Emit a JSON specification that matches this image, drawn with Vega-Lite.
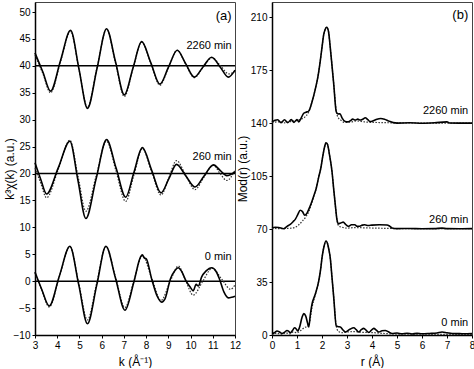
{
"$schema": "https://vega.github.io/schema/vega-lite/v6.json",
"padding": {"left": 2, "top": 1, "right": 0, "bottom": 0},
"spacing": 37,
"bounds": "flush",
"config": {
  "font": "Liberation Sans",
  "view": {"stroke": "#444", "strokeWidth": 1},
  "axis": {"grid": false, "domainColor": "#000", "domainWidth": 1.5, "tickColor": "#000", "tickSize": 3, "labelColor": "#000", "labelFontSize": 10, "titleColor": "#000", "titleFontWeight": "normal", "titleFontSize": 12, "labelPadding": 2, "labelFlush": false, "labelOverlap": false},
  "axisX": {"labelOverlap": false, "tickCount": 10}
},
"datasets": {
  "a_base": [{"v": 0}, {"v": 20}, {"v": 40}],
  "a_exp": [
    {"s":"2260","k":3.0,"v":42.4},{"s":"2260","k":3.35,"v":38.9},{"s":"2260","k":3.7,"v":35.3},{"s":"2260","k":4.15,"v":41.0},{"s":"2260","k":4.6,"v":46.6},{"s":"2260","k":4.98,"v":39.4},{"s":"2260","k":5.36,"v":32.1},{"s":"2260","k":5.79,"v":39.5},{"s":"2260","k":6.22,"v":46.9},{"s":"2260","k":6.62,"v":40.8},{"s":"2260","k":7.02,"v":34.6},{"s":"2260","k":7.41,"v":39.6},{"s":"2260","k":7.8,"v":44.5},{"s":"2260","k":8.21,"v":40.6},{"s":"2260","k":8.62,"v":36.6},{"s":"2260","k":9.01,"v":39.8},{"s":"2260","k":9.4,"v":42.9},{"s":"2260","k":9.78,"v":40.4},{"s":"2260","k":10.17,"v":37.9},{"s":"2260","k":10.56,"v":39.8},{"s":"2260","k":10.95,"v":41.6},{"s":"2260","k":11.33,"v":39.8},{"s":"2260","k":11.7,"v":37.9},{"s":"2260","k":12.0,"v":39.2},
    {"s":"260","k":3.0,"v":22.0},{"s":"260","k":3.26,"v":18.9},{"s":"260","k":3.52,"v":16.2},{"s":"260","k":4.05,"v":21.1},{"s":"260","k":4.57,"v":26.0},{"s":"260","k":4.93,"v":18.8},{"s":"260","k":5.29,"v":11.65},{"s":"260","k":5.75,"v":19.0},{"s":"260","k":6.22,"v":26.3},{"s":"260","k":6.65,"v":21.0},{"s":"260","k":7.08,"v":15.6},{"s":"260","k":7.45,"v":20.2},{"s":"260","k":7.83,"v":24.8},{"s":"260","k":8.25,"v":20.6},{"s":"260","k":8.67,"v":16.4},{"s":"260","k":9.02,"v":19.0},{"s":"260","k":9.37,"v":21.7},{"s":"260","k":9.78,"v":19.6},{"s":"260","k":10.2,"v":17.5},{"s":"260","k":10.6,"v":19.5},{"s":"260","k":11.03,"v":21.6},{"s":"260","k":11.33,"v":20.6},{"s":"260","k":11.63,"v":19.6},{"s":"260","k":12.0,"v":20.3},
    {"s":"0","k":3.0,"v":1.7},{"s":"0","k":3.3,"v":-1.5},{"s":"0","k":3.64,"v":-4.6},{"s":"0","k":4.1,"v":1.0},{"s":"0","k":4.57,"v":6.5},{"s":"0","k":4.97,"v":-0.7},{"s":"0","k":5.36,"v":-7.9},{"s":"0","k":5.78,"v":-0.7},{"s":"0","k":6.19,"v":6.5},{"s":"0","k":6.62,"v":0.6},{"s":"0","k":7.05,"v":-5.4},{"s":"0","k":7.44,"v":-0.3},{"s":"0","k":7.75,"v":4.5},{"s":"0","k":7.83,"v":4.9},{"s":"0","k":7.92,"v":4.3},{"s":"0","k":8.0,"v":4.2},{"s":"0","k":8.25,"v":0.4},{"s":"0","k":8.5,"v":-2.8},{"s":"0","k":8.7,"v":-3.9},{"s":"0","k":8.85,"v":-3.3},{"s":"0","k":9.1,"v":0.5},{"s":"0","k":9.3,"v":2.0},{"s":"0","k":9.45,"v":2.5},{"s":"0","k":9.6,"v":1.8},{"s":"0","k":9.8,"v":0.0},{"s":"0","k":10.0,"v":-1.2},{"s":"0","k":10.12,"v":-1.8},{"s":"0","k":10.25,"v":-0.6},{"s":"0","k":10.35,"v":-0.9},{"s":"0","k":10.5,"v":0.8},{"s":"0","k":10.7,"v":1.9},{"s":"0","k":10.95,"v":2.5},{"s":"0","k":11.15,"v":1.8},{"s":"0","k":11.3,"v":0.4},{"s":"0","k":11.5,"v":-2.0},{"s":"0","k":11.7,"v":-3.1},{"s":"0","k":11.85,"v":-3.0},{"s":"0","k":12.0,"v":-2.8}
  ],
  "a_fit": [
    {"s":"2260","k":3.0,"v":42.0},{"s":"2260","k":3.35,"v":38.6},{"s":"2260","k":3.7,"v":35.0},{"s":"2260","k":4.15,"v":40.8},{"s":"2260","k":4.6,"v":46.4},{"s":"2260","k":4.98,"v":39.3},{"s":"2260","k":5.36,"v":32.3},{"s":"2260","k":5.79,"v":39.6},{"s":"2260","k":6.22,"v":46.8},{"s":"2260","k":6.62,"v":40.6},{"s":"2260","k":7.02,"v":34.3},{"s":"2260","k":7.41,"v":39.5},{"s":"2260","k":7.8,"v":44.4},{"s":"2260","k":8.21,"v":40.5},{"s":"2260","k":8.62,"v":36.4},{"s":"2260","k":9.01,"v":39.7},{"s":"2260","k":9.4,"v":42.9},{"s":"2260","k":9.78,"v":40.3},{"s":"2260","k":10.17,"v":37.8},{"s":"2260","k":10.56,"v":39.7},{"s":"2260","k":10.97,"v":41.5},{"s":"2260","k":11.33,"v":40.1},{"s":"2260","k":11.72,"v":38.5},{"s":"2260","k":12.0,"v":39.0},
    {"s":"260","k":3.0,"v":21.0},{"s":"260","k":3.26,"v":18.2},{"s":"260","k":3.52,"v":15.5},{"s":"260","k":4.05,"v":20.8},{"s":"260","k":4.57,"v":26.2},{"s":"260","k":4.93,"v":19.6},{"s":"260","k":5.29,"v":13.0},{"s":"260","k":5.75,"v":19.5},{"s":"260","k":6.22,"v":26.0},{"s":"260","k":6.65,"v":20.4},{"s":"260","k":7.08,"v":14.8},{"s":"260","k":7.45,"v":19.7},{"s":"260","k":7.83,"v":24.6},{"s":"260","k":8.25,"v":20.3},{"s":"260","k":8.67,"v":16.0},{"s":"260","k":9.02,"v":19.2},{"s":"260","k":9.37,"v":22.4},{"s":"260","k":9.78,"v":19.7},{"s":"260","k":10.2,"v":17.0},{"s":"260","k":10.6,"v":19.3},{"s":"260","k":11.03,"v":21.5},{"s":"260","k":11.33,"v":20.0},{"s":"260","k":11.63,"v":18.7},{"s":"260","k":12.0,"v":20.6},
    {"s":"0","k":3.0,"v":1.5},{"s":"0","k":3.3,"v":-1.6},{"s":"0","k":3.64,"v":-4.8},{"s":"0","k":4.1,"v":0.9},{"s":"0","k":4.57,"v":6.4},{"s":"0","k":4.97,"v":-0.4},{"s":"0","k":5.36,"v":-7.2},{"s":"0","k":5.78,"v":-0.3},{"s":"0","k":6.19,"v":6.4},{"s":"0","k":6.62,"v":0.8},{"s":"0","k":7.05,"v":-4.9},{"s":"0","k":7.44,"v":-0.1},{"s":"0","k":7.83,"v":4.7},{"s":"0","k":8.25,"v":0.6},{"s":"0","k":8.67,"v":-3.6},{"s":"0","k":9.05,"v":-0.4},{"s":"0","k":9.45,"v":2.8},{"s":"0","k":9.78,"v":0.1},{"s":"0","k":10.12,"v":-2.6},{"s":"0","k":10.55,"v":0.0},{"s":"0","k":10.97,"v":2.4},{"s":"0","k":11.4,"v":0.4},{"s":"0","k":11.8,"v":-1.5},{"s":"0","k":12.0,"v":-0.7}
  ],
  "a_lab": [{"k":11.85,"v":43.6,"t":"2260 min"},{"k":11.85,"v":23.0,"t":"260 min"},{"k":11.85,"v":4.5,"t":"0 min"}],
  "a_tag": [{"k":11.85,"v":49.2,"t":"(a)"}],
  "b_exp": [
    {"s":"2260","r":0.0,"v":140.6},{"s":"2260","r":0.12,"v":141.8},{"s":"2260","r":0.23,"v":142.2},{"s":"2260","r":0.36,"v":140.3},{"s":"2260","r":0.5,"v":142.2},{"s":"2260","r":0.63,"v":140.3},{"s":"2260","r":0.77,"v":142.3},{"s":"2260","r":0.88,"v":140.5},{"s":"2260","r":1.0,"v":142.4},{"s":"2260","r":1.07,"v":140.8},{"s":"2260","r":1.17,"v":143.5},{"s":"2260","r":1.27,"v":146.5},{"s":"2260","r":1.36,"v":147.2},{"s":"2260","r":1.47,"v":148.0},{"s":"2260","r":1.6,"v":154},{"s":"2260","r":1.73,"v":162.3},{"s":"2260","r":1.83,"v":170},{"s":"2260","r":1.93,"v":181},{"s":"2260","r":2.0,"v":190},{"s":"2260","r":2.07,"v":198.6},{"s":"2260","r":2.13,"v":202},{"s":"2260","r":2.19,"v":203.3},{"s":"2260","r":2.26,"v":200.5},{"s":"2260","r":2.33,"v":190},{"s":"2260","r":2.4,"v":178},{"s":"2260","r":2.47,"v":165.6},{"s":"2260","r":2.57,"v":147.5},{"s":"2260","r":2.64,"v":146.0},{"s":"2260","r":2.72,"v":146.2},{"s":"2260","r":2.8,"v":143.5},{"s":"2260","r":2.93,"v":141.0},{"s":"2260","r":3.03,"v":140.8},{"s":"2260","r":3.13,"v":141.5},{"s":"2260","r":3.23,"v":142.6},{"s":"2260","r":3.33,"v":142.0},{"s":"2260","r":3.43,"v":142.6},{"s":"2260","r":3.53,"v":142.0},{"s":"2260","r":3.63,"v":142.6},{"s":"2260","r":3.73,"v":143.5},{"s":"2260","r":3.83,"v":142.3},{"s":"2260","r":3.93,"v":141.0},{"s":"2260","r":4.05,"v":141.5},{"s":"2260","r":4.2,"v":142.6},{"s":"2260","r":4.35,"v":143.0},{"s":"2260","r":4.5,"v":142.5},{"s":"2260","r":4.67,"v":141.3},{"s":"2260","r":4.85,"v":140.3},{"s":"2260","r":5.0,"v":140.0},{"s":"2260","r":5.5,"v":140.2},{"s":"2260","r":6.0,"v":139.9},{"s":"2260","r":6.5,"v":140.2},{"s":"2260","r":7.0,"v":140.8},{"s":"2260","r":7.1,"v":140.1},{"s":"2260","r":7.5,"v":140.0},{"s":"2260","r":8.0,"v":140.0},
    {"s":"260","r":0.0,"v":70.8},{"s":"260","r":0.13,"v":71.2},{"s":"260","r":0.27,"v":71.0},{"s":"260","r":0.47,"v":70.2},{"s":"260","r":0.6,"v":71.8},{"s":"260","r":0.73,"v":73.1},{"s":"260","r":0.85,"v":75.0},{"s":"260","r":0.93,"v":76.4},{"s":"260","r":1.03,"v":79.5},{"s":"260","r":1.13,"v":82.4},{"s":"260","r":1.22,"v":81.5},{"s":"260","r":1.31,"v":79.1},{"s":"260","r":1.4,"v":80.5},{"s":"260","r":1.47,"v":83},{"s":"260","r":1.57,"v":87},{"s":"260","r":1.67,"v":91.8},{"s":"260","r":1.77,"v":97},{"s":"260","r":1.87,"v":104.5},{"s":"260","r":1.95,"v":110},{"s":"260","r":2.03,"v":118},{"s":"260","r":2.1,"v":124},{"s":"260","r":2.16,"v":127},{"s":"260","r":2.22,"v":126},{"s":"260","r":2.3,"v":119},{"s":"260","r":2.4,"v":108},{"s":"260","r":2.47,"v":96},{"s":"260","r":2.53,"v":86.3},{"s":"260","r":2.6,"v":76},{"s":"260","r":2.65,"v":73.5},{"s":"260","r":2.75,"v":74.0},{"s":"260","r":2.85,"v":74.6},{"s":"260","r":2.95,"v":73.0},{"s":"260","r":3.05,"v":71.8},{"s":"260","r":3.18,"v":72.8},{"s":"260","r":3.31,"v":72.8},{"s":"260","r":3.41,"v":71.8},{"s":"260","r":3.51,"v":71.8},{"s":"260","r":3.61,"v":72.6},{"s":"260","r":3.71,"v":72.8},{"s":"260","r":3.85,"v":72.3},{"s":"260","r":4.0,"v":72.6},{"s":"260","r":4.3,"v":72.8},{"s":"260","r":4.6,"v":72.7},{"s":"260","r":4.7,"v":72.0},{"s":"260","r":4.8,"v":70.7},{"s":"260","r":5.0,"v":70.3},{"s":"260","r":5.5,"v":70.4},{"s":"260","r":6.0,"v":70.2},{"s":"260","r":6.5,"v":70.3},{"s":"260","r":6.8,"v":70.6},{"s":"260","r":7.0,"v":70.3},{"s":"260","r":7.5,"v":70.2},{"s":"260","r":8.0,"v":70.3},
    {"s":"0","r":0.0,"v":1.0},{"s":"0","r":0.1,"v":1.5},{"s":"0","r":0.2,"v":2.6},{"s":"0","r":0.3,"v":2.0},{"s":"0","r":0.4,"v":1.0},{"s":"0","r":0.5,"v":1.8},{"s":"0","r":0.6,"v":3.0},{"s":"0","r":0.67,"v":2.4},{"s":"0","r":0.73,"v":1.5},{"s":"0","r":0.82,"v":3.0},{"s":"0","r":0.9,"v":4.8},{"s":"0","r":0.97,"v":4.0},{"s":"0","r":1.03,"v":2.6},{"s":"0","r":1.1,"v":5},{"s":"0","r":1.2,"v":11.5},{"s":"0","r":1.27,"v":14.1},{"s":"0","r":1.35,"v":12.5},{"s":"0","r":1.42,"v":8},{"s":"0","r":1.47,"v":5.3},{"s":"0","r":1.53,"v":13},{"s":"0","r":1.6,"v":20.3},{"s":"0","r":1.73,"v":26.9},{"s":"0","r":1.87,"v":35.7},{"s":"0","r":1.95,"v":44},{"s":"0","r":2.0,"v":51},{"s":"0","r":2.08,"v":58.5},{"s":"0","r":2.16,"v":62.1},{"s":"0","r":2.22,"v":60.5},{"s":"0","r":2.28,"v":56},{"s":"0","r":2.33,"v":51},{"s":"0","r":2.4,"v":38},{"s":"0","r":2.47,"v":24.7},{"s":"0","r":2.57,"v":6},{"s":"0","r":2.65,"v":5.5},{"s":"0","r":2.73,"v":5.3},{"s":"0","r":2.83,"v":3.5},{"s":"0","r":2.93,"v":2.0},{"s":"0","r":3.1,"v":3.6},{"s":"0","r":3.27,"v":4.8},{"s":"0","r":3.37,"v":3.5},{"s":"0","r":3.47,"v":2.0},{"s":"0","r":3.57,"v":3.5},{"s":"0","r":3.67,"v":4.4},{"s":"0","r":3.77,"v":3.0},{"s":"0","r":3.87,"v":1.7},{"s":"0","r":3.97,"v":3.0},{"s":"0","r":4.07,"v":4.4},{"s":"0","r":4.17,"v":3.2},{"s":"0","r":4.27,"v":2.0},{"s":"0","r":4.4,"v":2.8},{"s":"0","r":4.53,"v":3.0},{"s":"0","r":4.67,"v":2.0},{"s":"0","r":4.8,"v":1.0},{"s":"0","r":5.0,"v":1.3},{"s":"0","r":5.2,"v":0.8},{"s":"0","r":5.4,"v":1.2},{"s":"0","r":5.6,"v":0.7},{"s":"0","r":5.8,"v":1.1},{"s":"0","r":6.0,"v":0.8},{"s":"0","r":6.3,"v":1.0},{"s":"0","r":6.6,"v":1.3},{"s":"0","r":6.8,"v":2.0},{"s":"0","r":7.0,"v":1.5},{"s":"0","r":7.2,"v":1.0},{"s":"0","r":7.5,"v":0.9},{"s":"0","r":7.8,"v":0.8},{"s":"0","r":8.0,"v":0.9}
  ],
  "b_fit": [
    {"s":"2260","r":0.0,"v":140.3},{"s":"2260","r":0.25,"v":140.8},{"s":"2260","r":0.5,"v":140.2},{"s":"2260","r":0.75,"v":141.0},{"s":"2260","r":1.0,"v":141.8},{"s":"2260","r":1.15,"v":142.6},{"s":"2260","r":1.3,"v":143.8},{"s":"2260","r":1.47,"v":147.5},{"s":"2260","r":1.6,"v":154},{"s":"2260","r":1.73,"v":162.3},{"s":"2260","r":1.83,"v":170},{"s":"2260","r":1.93,"v":181},{"s":"2260","r":2.0,"v":190},{"s":"2260","r":2.07,"v":198.6},{"s":"2260","r":2.13,"v":202},{"s":"2260","r":2.19,"v":203.3},{"s":"2260","r":2.26,"v":200.5},{"s":"2260","r":2.33,"v":190},{"s":"2260","r":2.4,"v":178},{"s":"2260","r":2.47,"v":165.6},{"s":"2260","r":2.57,"v":148.0},{"s":"2260","r":2.65,"v":143.5},{"s":"2260","r":2.75,"v":142.0},{"s":"2260","r":2.9,"v":140.5},{"s":"2260","r":3.1,"v":140.6},{"s":"2260","r":3.4,"v":141.4},{"s":"2260","r":3.7,"v":140.8},{"s":"2260","r":4.0,"v":140.5},{"s":"2260","r":4.5,"v":140.3},{"s":"2260","r":5.0,"v":140.1},{"s":"2260","r":8.0,"v":140.0},
    {"s":"260","r":0.0,"v":70.5},{"s":"260","r":0.3,"v":70.3},{"s":"260","r":0.6,"v":70.4},{"s":"260","r":0.9,"v":71.0},{"s":"260","r":1.05,"v":72.5},{"s":"260","r":1.2,"v":75.0},{"s":"260","r":1.35,"v":78.0},{"s":"260","r":1.47,"v":81.5},{"s":"260","r":1.57,"v":86},{"s":"260","r":1.67,"v":91.5},{"s":"260","r":1.77,"v":97},{"s":"260","r":1.87,"v":104.5},{"s":"260","r":1.95,"v":110},{"s":"260","r":2.03,"v":118},{"s":"260","r":2.1,"v":124},{"s":"260","r":2.16,"v":127},{"s":"260","r":2.22,"v":126},{"s":"260","r":2.3,"v":119},{"s":"260","r":2.4,"v":108},{"s":"260","r":2.47,"v":96},{"s":"260","r":2.53,"v":86.3},{"s":"260","r":2.6,"v":76},{"s":"260","r":2.67,"v":72.0},{"s":"260","r":2.8,"v":71.2},{"s":"260","r":3.0,"v":70.6},{"s":"260","r":3.3,"v":71.0},{"s":"260","r":3.7,"v":70.8},{"s":"260","r":4.2,"v":70.6},{"s":"260","r":5.0,"v":70.3},{"s":"260","r":8.0,"v":70.2},
    {"s":"0","r":0.0,"v":0.3},{"s":"0","r":0.2,"v":1.2},{"s":"0","r":0.35,"v":0.5},{"s":"0","r":0.55,"v":1.5},{"s":"0","r":0.7,"v":0.7},{"s":"0","r":0.85,"v":2.0},{"s":"0","r":1.0,"v":1.5},{"s":"0","r":1.15,"v":3.0},{"s":"0","r":1.3,"v":5.0},{"s":"0","r":1.42,"v":5.5},{"s":"0","r":1.5,"v":8},{"s":"0","r":1.6,"v":18},{"s":"0","r":1.73,"v":26.5},{"s":"0","r":1.87,"v":35.7},{"s":"0","r":1.95,"v":44},{"s":"0","r":2.0,"v":51},{"s":"0","r":2.08,"v":58.5},{"s":"0","r":2.16,"v":62.1},{"s":"0","r":2.22,"v":60.5},{"s":"0","r":2.28,"v":56},{"s":"0","r":2.33,"v":51},{"s":"0","r":2.4,"v":38},{"s":"0","r":2.47,"v":24.7},{"s":"0","r":2.57,"v":6},{"s":"0","r":2.65,"v":2.5},{"s":"0","r":2.8,"v":1.5},{"s":"0","r":3.0,"v":2.0},{"s":"0","r":3.3,"v":2.2},{"s":"0","r":3.6,"v":1.8},{"s":"0","r":4.0,"v":1.6},{"s":"0","r":4.5,"v":1.0},{"s":"0","r":5.0,"v":0.6},{"s":"0","r":6.0,"v":0.5},{"s":"0","r":8.0,"v":0.4}
  ],
  "b_lab": [{"r":7.85,"v":147.8,"t":"2260 min"},{"r":7.85,"v":76.3,"t":"260 min"},{"r":7.85,"v":7.6,"t":"0 min"}],
  "b_tag": [{"r":7.85,"v":211.5,"t":"(b)"}]
},
"hconcat": [
  {
    "width": 200, "height": 333,
    "encoding": {
      "x": {"field": "k", "type": "quantitative", "scale": {"domain": [3, 12], "nice": false, "zero": false},
         "axis": {"values": [3,4,5,6,7,8,9,10,11,12], "labelOverlap": false, "labelFlush": false, "title": "k (Å⁻¹)", "titlePadding": 6}},
      "y": {"field": "v", "type": "quantitative", "scale": {"domain": [-10, 51.86], "nice": false, "zero": false},
         "axis": {"values": [-10,-5,0,5,10,15,20,25,30,35,40,45,50], "labelOverlap": false, "title": "k³χ(k) (a.u.)", "titleX": -26, "titleBaseline": "middle"}}
    },
    "layer": [
      {"data": {"name": "a_base"}, "mark": {"type": "rule", "color": "#000", "strokeWidth": 1.5},
       "encoding": {"x": null}},
      {"data": {"name": "a_fit"}, "mark": {"type": "line", "interpolate": "monotone", "color": "#333", "strokeWidth": 1.2, "strokeDash": [1.5, 1.5]},
       "encoding": {"detail": {"field": "s"}}},
      {"data": {"name": "a_exp"}, "mark": {"type": "line", "interpolate": "monotone", "color": "#000", "strokeWidth": 1.6},
       "encoding": {"detail": {"field": "s"}}},
      {"data": {"name": "a_lab"}, "mark": {"type": "text", "align": "right", "baseline": "middle", "fontSize": 11, "color": "#000"},
       "encoding": {"text": {"field": "t"}}},
      {"data": {"name": "a_tag"}, "mark": {"type": "text", "align": "right", "baseline": "middle", "fontSize": 13, "color": "#000"},
       "encoding": {"text": {"field": "t"}}}
    ]
  },
  {
    "width": 200, "height": 333,
    "encoding": {
      "x": {"field": "r", "type": "quantitative", "scale": {"domain": [0, 8], "nice": false},
         "axis": {"values": [0,1,2,3,4,5,6,7,8], "labelOverlap": false, "labelFlush": false, "title": "r (Å)", "titlePadding": 6}},
      "y": {"field": "v", "type": "quantitative", "scale": {"domain": [0, 220], "nice": false},
         "axis": {"values": [0,35,70,105,140,175,210], "labelOverlap": false, "title": "Mod(r) (a.u.)", "titleX": -30, "titleBaseline": "middle"}}
    },
    "layer": [
      {"data": {"name": "b_fit"}, "mark": {"type": "line", "interpolate": "monotone", "color": "#333", "strokeWidth": 1.2, "strokeDash": [1.5, 1.5]},
       "encoding": {"detail": {"field": "s"}}},
      {"data": {"name": "b_exp"}, "mark": {"type": "line", "interpolate": "monotone", "color": "#000", "strokeWidth": 1.6},
       "encoding": {"detail": {"field": "s"}}},
      {"data": {"name": "b_lab"}, "mark": {"type": "text", "align": "right", "baseline": "middle", "fontSize": 11, "color": "#000"},
       "encoding": {"text": {"field": "t"}}},
      {"data": {"name": "b_tag"}, "mark": {"type": "text", "align": "right", "baseline": "middle", "fontSize": 13, "color": "#000"},
       "encoding": {"text": {"field": "t"}}}
    ]
  }
]
}
